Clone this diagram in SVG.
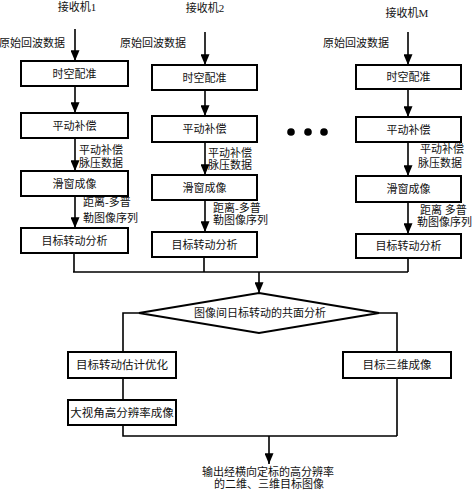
<svg xmlns="http://www.w3.org/2000/svg" width="474" height="492" viewBox="0 0 474 492">
<defs>
<marker id="arr" viewBox="0 0 12 10" refX="12" refY="5" markerWidth="12" markerHeight="9" orient="auto" markerUnits="userSpaceOnUse">
<path d="M0,0 L12,5 L0,10 z" fill="#000"/>
</marker>
<style>
text{font-family:"Liberation Serif","Noto Sans CJK SC",serif;font-size:11px;fill:#111}
.c{text-anchor:middle}
.box{fill:#fff;stroke:#000;stroke-width:2}
.ln{fill:none;stroke:#000;stroke-width:1.6}
.ar{fill:none;stroke:#000;stroke-width:1.6;marker-end:url(#arr)}
</style>
</defs>
<rect width="474" height="492" fill="#fff"/>

<g id="labels">
<text class="c" x="77" y="11">接收机1</text>
<text class="c" x="205" y="12">接收机2</text>
<text class="c" x="407" y="17">接收机M</text>
<text x="-1" y="47">原始回波数据</text>
<text x="120" y="47">原始回波数据</text>
<text x="323" y="47">原始回波数据</text>
<text x="79" y="154">平动补偿</text>
<text x="79" y="167">脉压数据</text>
<text x="83" y="206">距离-多普</text>
<text x="83" y="222">勒图像序列</text>
<text x="208" y="157">平动补偿</text>
<text x="208" y="169">脉压数据</text>
<text x="213" y="212">距离-多普</text>
<text x="213" y="224">勒图像序列</text>
<text x="420" y="153">平动补偿</text>
<text x="418" y="167">脉压数据</text>
<text x="420" y="214">距离 多普</text>
<text x="417" y="226">勒图像序列</text>
<text class="c" x="268" y="476">输出经横向定标的高分辨率</text>
<text class="c" x="269" y="488">的二维、三维目标图像</text>
</g>

<g id="dots" fill="#000">
<circle cx="291" cy="132" r="3.8"/>
<circle cx="308" cy="132" r="3.8"/>
<circle cx="324" cy="132" r="3.8"/>
</g>

<g id="connectors">
<line class="ar" x1="75" y1="29" x2="75" y2="61"/>
<line class="ar" x1="75" y1="86" x2="75" y2="113"/>
<line class="ar" x1="75" y1="138" x2="75" y2="171"/>
<line class="ar" x1="75" y1="196" x2="75" y2="228"/>
<line class="ar" x1="205" y1="32" x2="205" y2="65"/>
<line class="ar" x1="205" y1="90" x2="205" y2="116"/>
<line class="ar" x1="205" y1="142" x2="205" y2="175"/>
<line class="ar" x1="205" y1="200" x2="205" y2="232"/>
<line class="ar" x1="408" y1="32" x2="408" y2="65"/>
<line class="ar" x1="408" y1="89" x2="408" y2="117"/>
<line class="ar" x1="408" y1="142" x2="408" y2="176"/>
<line class="ar" x1="408" y1="202" x2="408" y2="234"/>
<path class="ln" d="M74,253 V272 M204,257 V272 M408,258 V272 M73,272 H408"/>
<line class="ar" x1="259" y1="272" x2="259" y2="293"/>
<path class="ln" d="M139,313 H123 V352 M123,378 V400 M123,425 V436 H397 M379,313 H397 V352 M397,378 V436"/>
<line class="ar" x1="269" y1="436" x2="269" y2="464"/>
</g>

<g id="n1a"><rect class="box" x="21" y="61" width="107" height="25"/><text class="c" x="74.5" y="77.5">时空配准</text></g>
<g id="n1b"><rect class="box" x="21" y="113" width="107" height="25"/><text class="c" x="74.5" y="129.5">平动补偿</text></g>
<g id="n1c"><rect class="box" x="21" y="171" width="107" height="25"/><text class="c" x="74.5" y="187.5">滑窗成像</text></g>
<g id="n1d"><rect class="box" x="21" y="228" width="107" height="25"/><text class="c" x="74.5" y="244.5">目标转动分析</text></g>

<g id="n2a"><rect class="box" x="152" y="65" width="105" height="25"/><text class="c" x="204.5" y="81.5">时空配准</text></g>
<g id="n2b"><rect class="box" x="152" y="116" width="105" height="26"/><text class="c" x="204.5" y="133">平动补偿</text></g>
<g id="n2c"><rect class="box" x="152" y="175" width="105" height="25"/><text class="c" x="204.5" y="191.5">滑窗成像</text></g>
<g id="n2d"><rect class="box" x="152" y="232" width="105" height="25"/><text class="c" x="204.5" y="248.5">目标转动分析</text></g>

<g id="n3a"><rect class="box" x="356" y="65" width="105" height="24"/><text class="c" x="408.5" y="81">时空配准</text></g>
<g id="n3b"><rect class="box" x="356" y="117" width="105" height="25"/><text class="c" x="408.5" y="133.5">平动补偿</text></g>
<g id="n3c"><rect class="box" x="356" y="176" width="105" height="26"/><text class="c" x="408.5" y="193">滑窗成像</text></g>
<g id="n3d"><rect class="box" x="356" y="234" width="105" height="24"/><text class="c" x="408.5" y="250">目标转动分析</text></g>

<g id="decision"><path d="M259,293 L379,313 L259,333 L139,313 Z" fill="#fff" stroke="#000" stroke-width="1.8"/><text class="c" x="260" y="317">图像间日标转动的共面分析</text></g>

<g id="opt"><rect class="box" x="68" y="352" width="108" height="26"/><text class="c" x="122" y="369" style="font-size:11.5px">目标转动估计优化</text></g>
<g id="wide"><rect class="box" x="68" y="400" width="108" height="25"/><text class="c" x="122" y="416.5" style="font-size:11.5px">大视角高分辨率成像</text></g>
<g id="threed"><rect class="box" x="343" y="352" width="108" height="26"/><text class="c" x="397" y="369" style="font-size:11.5px">目标三维成像</text></g>
</svg>
